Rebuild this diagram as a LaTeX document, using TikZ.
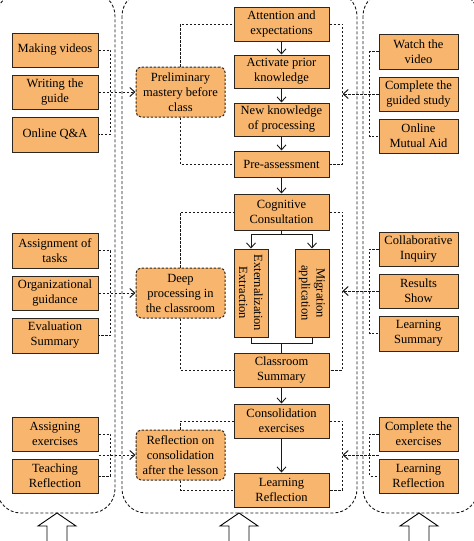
\documentclass[tikz,border=0pt]{standalone}
\usepackage{fontspec}
\setmainfont{Liberation Serif}
\usetikzlibrary{arrows.meta,calc}
\definecolor{boxfill}{RGB}{247,181,109}
\definecolor{boxline}{RGB}{45,38,30}
\tikzset{
  box/.style={draw=boxline, fill=boxfill, line width=1pt, align=center, inner sep=0pt,
              font=\fontsize{12.5}{15}\selectfont},
  dbox/.style={box, rounded corners=5pt, dash pattern=on 2.4pt off 1.6pt},
  dl/.style={draw=black!90, line width=1pt, dash pattern=on 2.4pt off 1.6pt},
  sl/.style={draw=black!90, line width=0.9pt},
  arr/.style={-{Straight Barb[length=5pt,width=9pt]}},
  panel/.style={draw=black!90, line width=0.9pt, dash pattern=on 3pt off 2pt, rounded corners=24pt},
  bigarrow/.style={draw=black, line width=0.9pt, fill=white}
}
\newcommand\bx[7][box]{\node[#1, minimum width={#5-#3}, minimum height={#6-#4}] (#2) at ({(#3+#5)/2},{(#4+#6)/2}) {#7};}
\begin{document}
\begin{tikzpicture}[x=1pt,y=-1pt]
\useasboundingbox (0,0) rectangle (474,541);
\clip (0,0) rectangle (474,541);
% panels
\draw[panel] (-3,-8) rectangle (115,513);
\draw[panel] (122,-8) rectangle (357,513);
\draw[panel] (363,-8) rectangle (478,513);
% left column
\bx{mv}{12}{33}{98}{67}{Making videos}
\bx{wg}{12}{75}{98}{109}{Writing the\\guide}
\bx{oqa}{12}{117}{98}{152}{Online Q\&A}
\bx{at}{12}{233}{98}{268}{Assignment of\\tasks}
\bx{og}{12}{276}{98}{310}{Organizational\\guidance}
\bx{es}{12}{318}{98}{353}{Evaluation\\Summary}
\bx{ae}{12}{417}{98}{451}{Assigning\\exercises}
\bx{tr}{12}{459}{98}{493}{Teaching\\Reflection}
% right column
\bx{wv}{379}{34}{458}{69}{Watch the\\video}
\bx{cg}{379}{77}{458}{111}{Complete the\\guided study}
\bx{oma}{379}{119}{458}{153}{Online\\Mutual Aid}
\bx{ci}{379}{232}{458}{266}{Collaborative\\Inquiry}
\bx{rs}{379}{274}{458}{308}{Results\\Show}
\bx{ls}{379}{316}{458}{351}{Learning\\Summary}
\bx{ce}{379}{417}{458}{451}{Complete the\\exercises}
\bx{lrr}{379}{459}{458}{493}{Learning\\Reflection}
% middle flow
\bx{att}{234}{7}{329}{41}{Attention and\\expectations}
\bx{apk}{234}{55}{329}{88}{Activate prior\\knowledge}
\bx{nkp}{234}{103}{329}{136}{New knowledge\\of processing}
\bx{pa}{234}{151}{329}{177}{Pre-assessment}
\bx{cc}{234}{194}{329}{230}{Cognitive\\Consultation}
\node[box, rotate=-90, minimum width=88, minimum height=34] (ee) at (251,293) {Externalization\\Extraction};
\node[box, rotate=-90, minimum width=88, minimum height=34] (ma) at (312,293) {Migration\\application};
\bx{cs}{234}{353}{329}{387}{Classroom\\Summary}
\bx{cex}{234}{404}{329}{438}{Consolidation\\exercises}
\bx{lr}{234}{473}{329}{507}{Learning\\Reflection}
% dashed stage boxes
\bx[dbox]{pm}{136}{67}{225}{117}{Preliminary\\mastery before\\class}
\bx[dbox]{dp}{136}{268}{225}{318}{Deep\\processing in\\the classroom}
\bx[dbox]{rc}{136}{430}{225}{480}{Reflection on\\consolidation\\after the lesson}
% solid flow arrows
\draw[sl,arr] (att) -- (apk);
\draw[sl,arr] (apk) -- (nkp);
\draw[sl,arr] (nkp) -- (pa);
\draw[sl,arr] (pa) -- (cc);
\draw[sl] (cc.south) -- ++(0,4) coordinate (br);
\draw[sl,arr] (br) -| (ee.west);
\draw[sl,arr] (br) -| (ma.west);
\draw[sl] (ee.east) -- ++(0,6) -| (ma.east);
\draw[sl] (cs.north) -- ++(0,-10);
\draw[sl,arr] (cs) -- (cex);
\draw[sl,arr] (cex) -- (lr);
% middle dashed brackets
\draw[dl] (pm.north) |- (att.west);
\draw[dl] (pm.south) |- (pa.west);
\draw[dl] (att.east) -- ++(13,0) coordinate (rb1) |- (pa.east);
\draw[dl] (dp.north) |- (cc.west);
\draw[dl] (dp.south) |- (cs.west);
\draw[dl] (cc.east) -- ++(13,0) coordinate (rb2) |- (cs.east);
\draw[dl] (rc.north) |- (cex.west);
\draw[dl] (rc.south) |- (lr.west);
\draw[dl] (cex.east) -- ++(13,0) coordinate (rb3) |- (lr.east);
% left brackets and arrows
\draw[dl] (mv.east) -- ++(12,0) |- (oqa.east);
\draw[dl,arr] (wg.east) -- (pm.west);
\draw[dl] (at.east) -- ++(12,0) |- (es.east);
\draw[dl,arr] (og.east) -- (dp.west);
\draw[dl] (ae.east) -- ++(12,0) |- (tr.east);
\draw[dl,arr] (ae.east |- rc.west) -- (rc.west);
% right brackets and arrows
\draw[dl] (wv.west) -- ++(-9,0) |- (oma.west);
\draw[dl,arr] (cg.west) -- (cg.west -| rb1);
\draw[dl] (ci.west) -- ++(-9,0) |- (ls.west);
\draw[dl,arr] (rs.west) -- (rs.west -| rb2);
\draw[dl] (ce.west) -- ++(-9,0) |- (lrr.west);
\draw[dl,arr] (ce.west |- rc.west) -- (ce.west |- rc.west -| rb3);
% big hollow arrows
\foreach \cx in {57,239,419}{
  \draw[bigarrow] (\cx+10,548) -- (\cx+10,526) -- (\cx+19,526) -- (\cx,513) -- (\cx-19,526) -- (\cx-10,526) -- (\cx-10,548);
}
\end{tikzpicture}
\end{document}
